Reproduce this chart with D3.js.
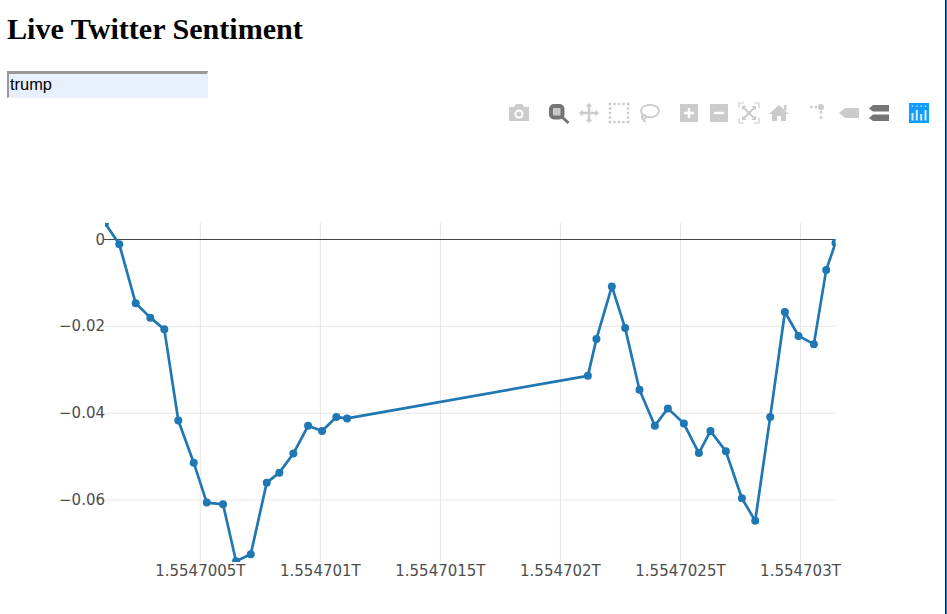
<!DOCTYPE html>
<html>
<head>
<meta charset="utf-8">
<style>
html,body{margin:0;padding:0;background:#fff;width:947px;height:614px;overflow:hidden;}
#page{position:relative;width:947px;height:614px;}
h1{position:absolute;left:7px;top:12px;margin:0;font:bold 30.1px "Liberation Serif","Times New Roman",serif;color:#000;white-space:nowrap;}
#search{position:absolute;left:7px;top:71px;width:201px;height:27px;box-sizing:border-box;background:#e8f0fe;border-top:3px solid #999;border-left:2px solid #999;border-right:1px solid #eee;border-bottom:1px solid #eee;font:16.4px/20px "Liberation Sans",Arial,sans-serif;color:#000;padding-left:1px;}
#edge{position:absolute;left:945px;top:0;width:1px;height:614px;background:#16222e;}
#edge2{position:absolute;left:946px;top:0;width:1px;height:614px;background:#1683d8;}
svg{position:absolute;left:0;top:0;}
</style>
<script src="https://cdnjs.cloudflare.com/ajax/libs/d3/7.8.5/d3.min.js"></script>
</head>
<body>
<div id="page">
<h1>Live Twitter Sentiment</h1>
<div id="search">trump</div>
<div id="edge"></div>
<div id="edge2"></div>
<svg id="chart" width="945" height="614"></svg>
</div>
<script>
const times = [1554700102900,1554700162500,1554700230800,1554700291700,1554700350000,1554700408300,1554700472500,1554700526700,1554700594600,1554700648800,1554700710000,1554700776700,1554700829200,1554700887500,1554700948800,1554701007100,1554701066700,1554701111300,1554702114200,1554702150000,1554702214200,1554702269600,1554702329200,1554702393300,1554702447500,1554702514200,1554702576700,1554702625000,1554702689200,1554702755800,1554702811300,1554702873800,1554702935000,1554702991700,1554703055800,1554703107100,1554703145800];
const sentiment = [0.0038,-0.0011,-0.0147,-0.0180,-0.0207,-0.0417,-0.0514,-0.0606,-0.0610,-0.0741,-0.0725,-0.0560,-0.0537,-0.0493,-0.0429,-0.0441,-0.0409,-0.0412,-0.0314,-0.0229,-0.0108,-0.0204,-0.0346,-0.0429,-0.0389,-0.0424,-0.0492,-0.0441,-0.0488,-0.0596,-0.0648,-0.0409,-0.0167,-0.0222,-0.0241,-0.0070,-0.0008];
const xTicks = [1554700500000,1554701000000,1554701500000,1554702000000,1554702500000,1554703000000];
const xTickLabels = ["1.5547005T","1.554701T","1.5547015T","1.554702T","1.5547025T","1.554703T"];
const yTicks = [0,-0.02,-0.04,-0.06];
const yTickLabels = ["0","\u22120.02","\u22120.04","\u22120.06"];

const plot = {l:105,r:835.5,t:223,b:562};
const x = d3.scaleLinear().domain(d3.extent(times)).range([plot.l,plot.r]);
const y = d3.scaleLinear().domain([0,-0.06]).range([239.5,500]);
const svg = d3.select("#chart");
const font = '"DejaVu Sans",verdana,arial,sans-serif';

svg.append("defs").append("clipPath").attr("id","plotclip").append("rect")
  .attr("x",plot.l).attr("y",plot.t).attr("width",plot.r-plot.l).attr("height",plot.b-plot.t);

// grid
svg.append("g").selectAll("line").data(xTicks).join("line")
  .attr("x1",d=>x(d)).attr("x2",d=>x(d)).attr("y1",plot.t).attr("y2",plot.b)
  .attr("stroke","#e6e6e6").attr("stroke-width",1);
svg.append("g").selectAll("line").data(yTicks.filter(d=>d!==0)).join("line")
  .attr("x1",plot.l-1).attr("x2",plot.r).attr("y1",d=>y(d)).attr("y2",d=>y(d))
  .attr("stroke","#e6e6e6").attr("stroke-width",1);
// zero line
svg.append("line").attr("x1",plot.l-1).attr("x2",plot.r).attr("y1",y(0)).attr("y2",y(0))
  .attr("stroke","#444").attr("stroke-width",1);

// tick labels
svg.append("g").selectAll("text").data(xTicks).join("text")
  .attr("x",d=>x(d)).attr("y",576).attr("text-anchor","middle")
  .attr("font-family",font).attr("font-size",15).attr("fill","#4d4d4d")
  .text((d,i)=>xTickLabels[i]);
svg.append("g").selectAll("text").data(yTicks).join("text")
  .attr("x",105).attr("y",d=>y(d)+5).attr("text-anchor","end")
  .attr("font-family",font).attr("font-size",15).attr("fill","#4d4d4d")
  .text((d,i)=>yTickLabels[i]);

// series
const pts = times.map((t,i)=>[t,sentiment[i]]);
const g = svg.append("g").attr("clip-path","url(#plotclip)");
g.append("path").attr("d",d3.line().x(d=>x(d[0])).y(d=>y(d[1]))(pts))
  .attr("fill","none").attr("stroke","#1f77b4").attr("stroke-width",2.7).attr("stroke-linejoin","round");
g.selectAll("circle").data(pts).join("circle")
  .attr("cx",d=>x(d[0])).attr("cy",d=>y(d[1])).attr("r",4).attr("fill","#1f77b4");

// modebar icons
const mb = svg.append("g");
const LIGHT="#cbcbcb", DARK="#757575";
function icon(cx,draw){const n=mb.append("g").attr("transform",`translate(${cx},113)`);draw(n);}
// camera
icon(519,n=>{
  n.append("path").attr("d","M-10,-6H-5L-3,-9H3L5,-6H10V8H-10Z").attr("fill",LIGHT);
  n.append("circle").attr("cy",1).attr("r",4.5).attr("fill","#fff");
  n.append("circle").attr("cy",1).attr("r",2.6).attr("fill",LIGHT);
});
// zoom (active)
icon(558,n=>{
  n.append("rect").attr("x",-9).attr("y",-9).attr("width",15.5).attr("height",15.5).attr("rx",5).attr("fill",DARK);
  n.append("rect").attr("x",-5).attr("y",-5).attr("width",7.5).attr("height",7.5).attr("fill","#c8c8c8");
  n.append("line").attr("x1",4).attr("y1",4).attr("x2",10.5).attr("y2",10).attr("stroke",DARK).attr("stroke-width",3);
});
// pan
icon(589,n=>{
  n.append("path").attr("d","M0,-10L3.5,-6.5H1.2V-1.2H6.5V-3.5L10,0L6.5,3.5V1.2H1.2V6.5H3.5L0,10L-3.5,6.5H-1.2V1.2H-6.5V3.5L-10,0L-6.5,-3.5V-1.2H-1.2V-6.5H-3.5Z").attr("fill",LIGHT);
});
// box select: dotted square
icon(619,n=>{
  const dots=[-9,-4.5,0,4.5,9];
  dots.forEach(a=>[-9,9].forEach(b=>{
    n.append("rect").attr("x",a-1.2).attr("y",b-1.2).attr("width",2.4).attr("height",2.4).attr("fill",LIGHT);
    n.append("rect").attr("x",b-1.2).attr("y",a-1.2).attr("width",2.4).attr("height",2.4).attr("fill",LIGHT);
  }));
});
// lasso
icon(649,n=>{
  n.append("ellipse").attr("cx",1).attr("cy",-2).attr("rx",9).attr("ry",6.2).attr("fill","none").attr("stroke",LIGHT).attr("stroke-width",1.8);
  n.append("path").attr("d","M-6,2C-8,6 -5,8 -3,9").attr("fill","none").attr("stroke",LIGHT).attr("stroke-width",1.8);
  n.append("circle").attr("cx",-5).attr("cy",4).attr("r",2).attr("fill","none").attr("stroke",LIGHT).attr("stroke-width",1.5);
});
// zoom in / out
icon(689,n=>{
  n.append("rect").attr("x",-9).attr("y",-9).attr("width",18).attr("height",18).attr("fill",LIGHT);
  n.append("path").attr("d","M-5,0H5M0,-5V5").attr("stroke","#fff").attr("stroke-width",2.4);
});
icon(719,n=>{
  n.append("rect").attr("x",-9).attr("y",-9).attr("width",18).attr("height",18).attr("fill",LIGHT);
  n.append("path").attr("d","M-5,0H5").attr("stroke","#fff").attr("stroke-width",2.4);
});
// autoscale
icon(749,n=>{
  n.append("path").attr("d","M-10,-5V-10H-5M5,-10H10V-5M10,5V10H5M-5,10H-10V5").attr("fill","none").attr("stroke",LIGHT).attr("stroke-width",1.2);
  n.append("path").attr("d","M-6,-6L6,6M6,-6L-6,6").attr("stroke",LIGHT).attr("stroke-width",2);
  n.append("path").attr("d","M-7,-7H-2.5L-7,-2.5ZM7,-7H2.5L7,-2.5ZM-7,7H-2.5L-7,2.5ZM7,7H2.5L7,2.5Z").attr("fill",LIGHT);
});
// home
icon(779,n=>{
  n.append("path").attr("d","M0,-8L10,1H7V8H2V3H-2V8H-7V1H-10Z").attr("fill",LIGHT);
  n.append("rect").attr("x",5).attr("y",-8).attr("width",2.4).attr("height",5).attr("fill",LIGHT);
});
// spike lines
icon(819,n=>{
  n.append("path").attr("d","M-9,-6H-2").attr("stroke",LIGHT).attr("stroke-width",2.4).attr("stroke-dasharray","2.4 2.2");
  n.append("circle").attr("cx",2).attr("cy",-6).attr("r",3).attr("fill",LIGHT);
  n.append("path").attr("d","M2,-2V8").attr("stroke",LIGHT).attr("stroke-width",2.4).attr("stroke-dasharray","2.6 2.6");
});
// hover closest
icon(849,n=>{
  n.append("path").attr("d","M-10,0L-4,-5H10V5H-4Z").attr("fill",LIGHT);
});
// hover compare (active)
icon(879,n=>{
  n.append("path").attr("d","M-10,-4.5L-6,-8H10V-1.5H-6ZM-10,5L-6,1.5H10V8H-6Z").attr("fill",DARK);
});
// plotly logo
icon(919,n=>{
  n.append("rect").attr("x",-10).attr("y",-10).attr("width",20).attr("height",20).attr("fill","#119dff");
  [[-6.5,0],[-2.2,-3],[2.2,1],[6.5,-3]].forEach(([cx,top])=>{
    n.append("line").attr("x1",cx).attr("x2",cx).attr("y1",top).attr("y2",7.5).attr("stroke","#d5eeff").attr("stroke-width",2);
    n.append("line").attr("x1",cx).attr("x2",cx).attr("y1",-7.5).attr("y2",-5).attr("stroke","#d5eeff").attr("stroke-width",1.4).attr("stroke-dasharray","1.2 1.2");
  });
});
</script>
</body>
</html>
